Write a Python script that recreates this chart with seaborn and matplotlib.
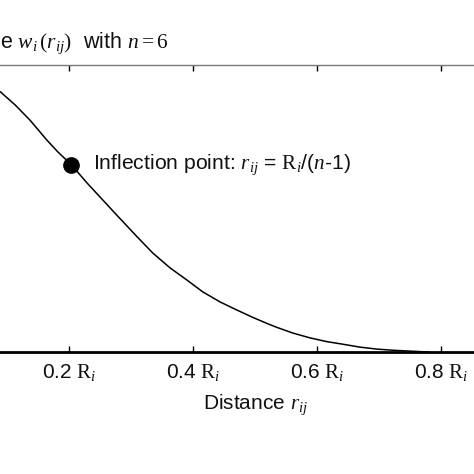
import matplotlib
matplotlib.use("Agg")
import matplotlib.pyplot as plt
import seaborn as sns
import pandas as pd

# Data
distance = [0.089, 0.113, 0.137, 0.164, 0.182, 0.204, 0.229, 0.250, 0.277,
            0.310, 0.335, 0.363, 0.390, 0.416, 0.444, 0.471, 0.497, 0.521,
            0.535, 0.561, 0.589, 0.616, 0.642, 0.669, 0.697, 0.723, 0.750,
            0.780]
weight = [0.907, 0.861, 0.808, 0.739, 0.697, 0.652, 0.589, 0.540, 0.477,
          0.401, 0.345, 0.293, 0.251, 0.209, 0.174, 0.146, 0.120, 0.098,
          0.086, 0.066, 0.049, 0.036, 0.027, 0.017, 0.010, 0.006, 0.003,
          0.0]
inflection_r = [0.204]
inflection_w = [0.652]
tick_values = [0.2, 0.4, 0.6, 0.8]
tick_labels = [r"0.2 $\mathrm{R}_i$", r"0.4 $\mathrm{R}_i$",
               r"0.6 $\mathrm{R}_i$", r"0.8 $\mathrm{R}_i$"]

sns.set_theme(style="white")
plt.rcParams['font.family'] = ['Liberation Sans', 'DejaVu Sans']
plt.rcParams['mathtext.fontset'] = 'custom'
plt.rcParams['mathtext.rm'] = 'Liberation Serif'
plt.rcParams['mathtext.it'] = 'Liberation Serif:italic'

df = pd.DataFrame({"r": distance, "w": weight})

fig = plt.figure(figsize=(4.74, 4.74), dpi=100)
ax = fig.add_axes([-0.116, 0.2574, 1.308, 0.6055])
sns.lineplot(data=df, x="r", y="w", ax=ax, color="black", lw=1.1, sort=False)
ax.plot(inflection_r, inflection_w, 'o', color='black', ms=11)
ax.text(0.2387, 0.652, r"Inflection point: $r_{ij}$ = $\mathrm{R}_i$/($n$-1)",
        fontsize=15.2, va='center', ha='left', color='#111111')

ax.set_xlim(0, 1)
ax.set_ylim(0, 1)
ax.set_xticks(tick_values)
ax.set_xticklabels(tick_labels, fontsize=15)
ax.set_yticks([])
ax.tick_params(axis='x', direction='in', length=4, width=1, color='black',
               top=True, bottom=True, pad=7, labelcolor='#111111')
ax.set_xlabel(r"Distance $r_{ij}$", fontsize=15, labelpad=7, color='#111111')
ax.set_ylabel("")
for s in ['left', 'right']:
    ax.spines[s].set_visible(False)
ax.spines['bottom'].set_color('black')
ax.spines['bottom'].set_linewidth(2)
ax.spines['top'].set_color('#777777')
ax.spines['top'].set_linewidth(1)

fig.text(-0.004, 474 - 48, r"e $w_i\,(r_{ij})$  with $n = 6$", fontsize=15.5,
         transform=None, ha='left', va='baseline', color='#111111')

fig.savefig("out.png", dpi=100)
